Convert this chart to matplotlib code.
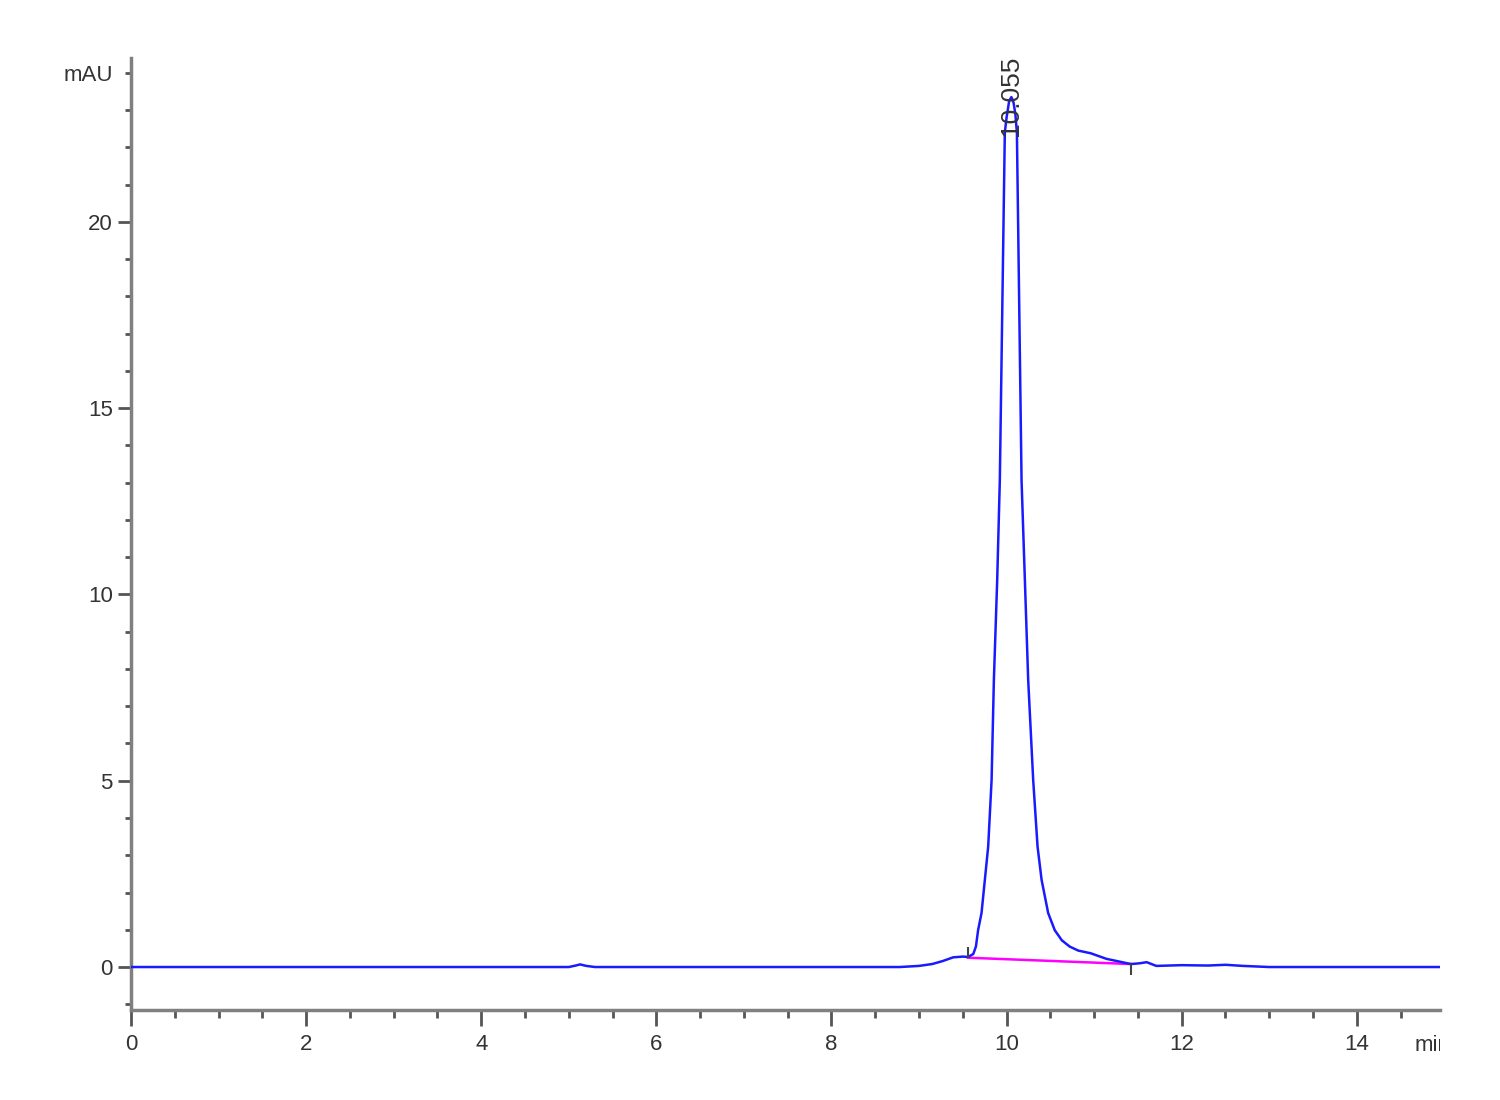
import matplotlib.pyplot as plt
from matplotlib.patches import Rectangle
from matplotlib.ticker import MultipleLocator

# Chromatogram trace (time in min, signal in mAU)
time_min = [0.0, 2.0, 4.0, 5.0, 5.08, 5.13, 5.2, 5.3, 6.0, 7.0, 8.0, 8.78, 9.0,
            9.15, 9.27, 9.39, 9.50, 9.56, 9.62, 9.65, 9.675, 9.714, 9.752, 9.79,
            9.829, 9.855, 9.893, 9.923, 9.98, 10.00, 10.03, 10.055, 10.08,
            10.10, 10.118, 10.171, 10.209, 10.247, 10.304, 10.354, 10.40,
            10.475, 10.55, 10.63, 10.72, 10.82, 10.96, 11.14, 11.30, 11.42,
            11.52, 11.60, 11.71, 12.0, 12.3, 12.5, 12.7, 13.0, 14.0, 14.95]
signal_mau = [0.0, 0.0, 0.0, 0.0, 0.04, 0.07, 0.03, 0.0, 0.0, 0.0, 0.0, 0.0, 0.03,
              0.08, 0.16, 0.26, 0.28, 0.27, 0.35, 0.55, 0.99, 1.45, 2.34, 3.23,
              5.02, 7.70, 10.39, 13.07, 22.4, 22.8, 23.25, 23.35, 23.2,
              22.9, 22.4, 13.07, 10.39, 7.70, 5.02, 3.23, 2.34,
              1.45, 0.99, 0.72, 0.55, 0.44, 0.37, 0.22, 0.14, 0.08,
              0.10, 0.13, 0.03, 0.05, 0.04, 0.06, 0.03, 0.0, 0.0, 0.0]

# integration baseline and peak events
baseline_t = [9.56, 11.42]
baseline_v = [0.25, 0.08]
peak_time = 10.055
peak_label = "10.055"

x_ticks = [0, 2, 4, 6, 8, 10, 12, 14]
y_ticks = [0, 5, 10, 15, 20]

plt.rcParams['font.family'] = ['Liberation Sans', 'DejaVu Sans']

fig = plt.figure(figsize=(15, 11), dpi=100)
ax = fig.add_axes([0.0873, 0.0818, 0.8727, 0.8655])

ax.plot(time_min, signal_mau, color='#1a1aff', lw=1.8, zorder=3)
ax.plot(baseline_t, baseline_v, color='#ff00ff', lw=1.8, zorder=2)

# event marks at start / end of the integrated peak
ax.vlines(baseline_t[0], baseline_v[0], baseline_v[0] + 0.3, color='#444444', lw=1.5, zorder=4)
ax.vlines(baseline_t[1], baseline_v[1] - 0.3, baseline_v[1], color='#444444', lw=1.5, zorder=4)

ax.text(peak_time, 22.3, peak_label, rotation=90, ha='center', va='bottom',
        fontsize=19, color='#333333', zorder=5)

ax.set_xlim(0, 14.95)
ax.set_ylim(-1.154, 24.4)

for side in ['top', 'right']:
    ax.spines[side].set_visible(False)
for side in ['left', 'bottom']:
    ax.spines[side].set_color('#808080')
    ax.spines[side].set_linewidth(2.5)

ax.set_xticks(x_ticks)
ax.xaxis.set_minor_locator(MultipleLocator(0.5))
ax.set_yticks(y_ticks + [24])
ax.set_yticklabels([str(v) for v in y_ticks] + ['mAU'])
ax.yaxis.set_minor_locator(MultipleLocator(1))

ax.tick_params(axis='both', which='both', direction='out', width=2,
               color='#555555', labelsize=16, labelcolor='#333333')
ax.tick_params(axis='x', which='major', length=11.5, pad=6)
ax.tick_params(axis='x', which='minor', length=6)
ax.tick_params(axis='y', which='major', length=9.5, pad=3.6)
ax.tick_params(axis='y', which='minor', length=4.5)
# the tick beside "mAU" is a short one
ax.yaxis.get_major_ticks()[-1].tick1line.set_markersize(4.5)

# unit label on the x axis, cut off at the end of the axis
t = ax.text(14.66, -0.026, "min", transform=ax.get_xaxis_transform(),
            ha='left', va='top', fontsize=16, color='#333333', clip_on=True)
clip = Rectangle((0, -0.2), 1.0, 1.3, transform=ax.transAxes)
t.set_clip_path(clip)

fig.savefig('out.png', dpi=100, facecolor='white')
